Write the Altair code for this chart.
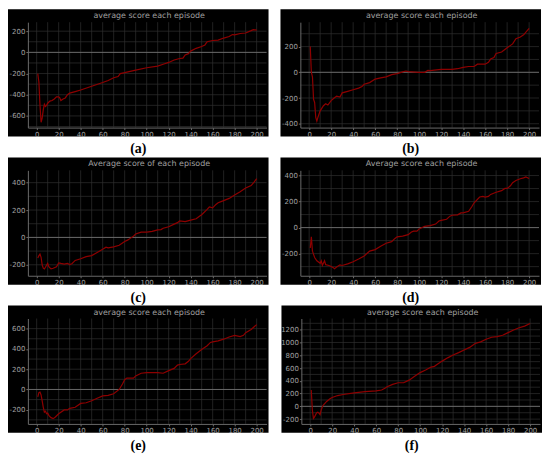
import altair as alt
import pandas as pd

# ---------------- data ----------------
A_x = [1,2,3,4,5,6,7,8,9,10,12,14,16,18,20,21,22,24,26,28,30,35,40,50,60,65,70,74,76,80,90,100,110,115,120,125,130,133,135,138,140,145,150,153,155,160,165,170,175,178,180,185,190,195,197,200]
A_y = [-200,-280,-500,-660,-620,-540,-490,-510,-500,-480,-460,-455,-440,-420,-420,-430,-455,-440,-430,-400,-385,-370,-355,-320,-285,-265,-240,-228,-200,-192,-168,-145,-130,-112,-95,-72,-58,-55,-25,-12,12,38,55,70,100,112,116,135,150,168,165,178,183,205,215,210]

B_x = [1,2,3,4,5,6,7,8,10,13,15,17,20,23,25,28,30,35,40,45,48,50,55,60,65,70,75,80,85,88,90,100,105,108,110,120,130,135,140,145,150,153,160,163,165,168,170,175,180,185,188,192,195,200]
B_y = [200,0,-35,-210,-235,-350,-380,-350,-300,-260,-245,-255,-220,-198,-186,-193,-160,-148,-136,-123,-110,-93,-80,-53,-43,-35,-18,-10,3,10,5,0,0,15,13,23,23,28,38,45,45,63,63,78,103,115,146,158,191,221,262,274,292,342]

C_x = [1,2,3,4,5,6,7,8,9,10,11,13,15,18,20,22,25,28,30,32,35,40,45,50,55,60,63,65,70,75,80,83,85,88,90,95,100,105,110,113,115,120,125,128,130,135,140,145,148,150,155,157,160,163,165,170,175,180,185,190,195,198,200]
C_y = [-150,-133,-122,-145,-202,-225,-230,-218,-202,-190,-213,-230,-225,-214,-186,-190,-195,-190,-198,-192,-168,-156,-140,-133,-110,-87,-71,-76,-69,-57,-30,-18,-7,9,25,39,39,44,55,57,67,78,97,108,120,115,126,136,154,166,205,223,216,241,253,269,285,310,333,361,379,407,430]

D_x = [1,2,3,4,5,7,10,11,12,14,15,18,20,22,23,25,28,30,35,40,45,50,55,60,65,70,75,78,80,85,90,93,95,98,100,105,110,115,118,120,125,128,130,135,138,140,145,148,150,155,158,160,163,165,170,175,178,180,183,185,188,192,195,197,200]
D_y = [-157,-71,-181,-206,-230,-255,-274,-255,-291,-255,-285,-291,-299,-308,-316,-303,-286,-291,-279,-262,-242,-218,-181,-169,-144,-120,-108,-83,-71,-66,-54,-34,-27,-27,-10,10,15,27,51,56,64,88,95,98,113,113,125,162,191,235,240,235,240,255,272,284,301,301,321,345,362,375,382,389,377]

E_x = [1,2,3,4,5,6,7,8,9,10,11,13,15,17,20,25,28,30,35,40,45,50,55,60,65,70,75,78,80,82,85,88,90,95,100,105,110,115,120,125,128,130,135,138,140,145,150,155,158,160,165,170,175,180,185,188,190,195,200]
E_y = [-74,-32,-26,-54,-112,-176,-224,-215,-240,-234,-255,-278,-288,-272,-240,-202,-202,-186,-176,-138,-131,-112,-86,-64,-58,-42,0,54,96,112,112,112,134,160,166,166,166,160,186,208,240,246,253,278,304,352,394,432,464,470,480,496,518,534,522,534,560,592,640]

F_x = [1,2,3,4,5,6,7,8,9,10,11,12,15,18,20,25,30,40,50,60,65,68,70,75,80,85,88,90,95,100,105,110,113,115,120,125,130,135,140,145,150,155,160,165,170,175,180,185,190,195,200]
F_y = [256,-60,-190,-165,-130,-100,-92,-105,-128,-60,-10,20,77,118,138,169,185,210,231,241,256,282,308,344,369,369,395,410,472,528,569,615,626,651,708,759,805,841,882,923,985,1010,1051,1082,1092,1113,1154,1195,1231,1256,1297]

TITLES = ["average score each episode", "average score each episode",
          "Average score of each episode", "Average score each episode",
          "average score each episode", "average score each episode"]
CAPTIONS = ["(a)", "(b)", "(c)", "(d)", "(e)", "(f)"]
X_DOMAIN = [-8, 209]
Y_DOMAINS = [[-710, 285], [-430, 390], [-280, 490], [-370, 440], [-340, 700], [-275, 1375]]
X_LABELS = list(range(0, 201, 20))
X_GRID = list(range(0, 201, 10))
Y_LABELS = [[-600, -400, -200, 0, 200], [-400, -200, 0, 200], [-200, 0, 200, 400],
            [-200, 0, 200, 400], [-200, 0, 200, 400, 600],
            [-200, 0, 200, 400, 600, 800, 1000, 1200]]
Y_GRID = [list(range(-700, 201, 100)), list(range(-400, 301, 100)), list(range(-200, 401, 100)),
          list(range(-300, 401, 100)), list(range(-300, 601, 100)), list(range(-200, 1301, 100))]

# ---------------- styling ----------------
W, H = 240, 106
LINE = "#8e0000"
GRID = "#303030"
ZERO = "#7a7a7a"
AXC = "#6a6a6a"
LAB = "#a0a0a0"


def panel(xs, ys, title, cap, ydom, ylabels, ygrid):
    xsc = alt.Scale(domain=X_DOMAIN, nice=False, zero=False)
    ysc = alt.Scale(domain=ydom, nice=False, zero=False)
    common = dict(labelFont="DejaVu Sans", labelFontSize=7, labelColor=LAB,
                  domainColor=AXC, tickColor=AXC, tickSize=2, labelPadding=1,
                  grid=False, zindex=1, title=None, labelExpr="toString(datum.value)")
    xax = alt.Axis(values=X_LABELS, **common)
    yax = alt.Axis(values=ylabels, **common)

    one = pd.DataFrame({"k": [0]})
    bg = alt.Chart(one).mark_rect(color="black").encode(
        x=alt.value(-20), x2=alt.value(W + 2), y=alt.value(-13), y2=alt.value(H + 9))
    vgrid = alt.Chart(pd.DataFrame({"x": X_GRID})).mark_rule(
        color=GRID, strokeWidth=0.7).encode(x=alt.X("x:Q", scale=xsc, axis=xax))
    hgrid = alt.Chart(pd.DataFrame({"y": ygrid})).mark_rule(
        color=GRID, strokeWidth=0.7).encode(y=alt.Y("y:Q", scale=ysc, axis=yax))
    zero = alt.Chart(pd.DataFrame({"y": [0]})).mark_rule(
        color=ZERO, strokeWidth=0.8).encode(y=alt.Y("y:Q", scale=ysc, axis=yax))
    line = alt.Chart(pd.DataFrame({"x": xs, "y": ys})).mark_line(
        color=LINE, strokeWidth=1.2).encode(
        x=alt.X("x:Q", scale=xsc, axis=xax), y=alt.Y("y:Q", scale=ysc, axis=yax))
    ttl = alt.Chart(one).mark_text(font="DejaVu Sans", fontSize=8, color=LAB,
                                   baseline="middle", align="center").encode(
        x=alt.value(W / 2 + 2), y=alt.value(-6), text=alt.value(title))
    capt = alt.Chart(one).mark_text(font="Liberation Serif", fontSize=14, fontWeight="bold",
                                    color="black", baseline="middle", align="center").encode(
        x=alt.value((W - 18) / 2), y=alt.value(H + 22), text=alt.value(cap))
    return alt.layer(bg, vgrid, hgrid, zero, line, ttl, capt).properties(width=W, height=H)


series = [(A_x, A_y), (B_x, B_y), (C_x, C_y), (D_x, D_y), (E_x, E_y), (F_x, F_y)]
panels = [panel(s[0], s[1], TITLES[i], CAPTIONS[i], Y_DOMAINS[i], Y_LABELS[i], Y_GRID[i])
          for i, s in enumerate(series)]

rows = [alt.hconcat(panels[0], panels[1], spacing=12),
        alt.hconcat(panels[2], panels[3], spacing=12),
        alt.hconcat(panels[4], panels[5], spacing=12)]
chart = alt.vconcat(*rows, spacing=1).properties(padding=0).configure_view(stroke=None)

chart.save("out.html", embed_options={"renderer": "svg", "actions": False})
